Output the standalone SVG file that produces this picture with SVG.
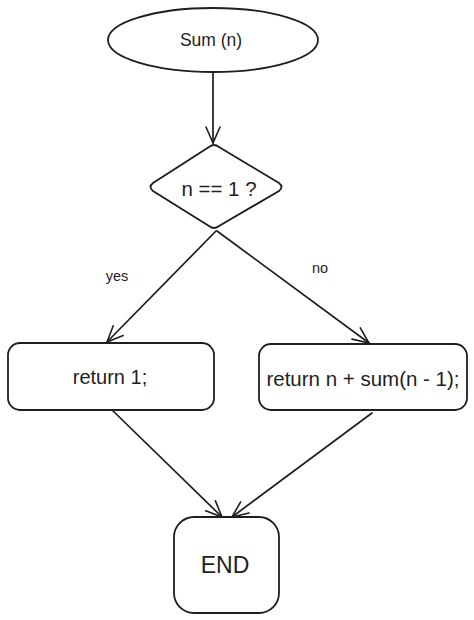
<svg xmlns="http://www.w3.org/2000/svg" width="474" height="620" viewBox="0 0 474 620">
<style>
.s{fill:#fff;stroke:#1e1e1e;stroke-width:1.8}
.t{font-family:"Liberation Sans",Arial,sans-serif;fill:#1e1e1e;text-anchor:middle;dominant-baseline:central}
.c{fill:none;stroke:#1e1e1e;stroke-width:1.7;stroke-linecap:round}
</style>
<defs>
<marker id="a" markerWidth="20" markerHeight="20" refX="17" refY="10" orient="auto" markerUnits="userSpaceOnUse">
<path d="M1,3 L17,10 L1,17" fill="none" stroke="#1e1e1e" stroke-width="1.6" stroke-linecap="round"/>
</marker>
</defs>
<rect width="474" height="620" fill="#fff"/>
<g id="connectors">
<line class="c" x1="213" y1="73" x2="213" y2="143" marker-end="url(#a)"/>
<line class="c" x1="216" y1="231" x2="107" y2="342" marker-end="url(#a)"/>
<line class="c" x1="217" y1="231" x2="369" y2="343" marker-end="url(#a)"/>
<line class="c" x1="110" y1="408" x2="222" y2="517" marker-end="url(#a)"/>
<line class="c" x1="372" y1="413" x2="232" y2="517" marker-end="url(#a)"/>
<text class="t" x="117" y="276" font-size="14.5">yes</text>
<text class="t" x="320" y="268" font-size="14.5">no</text>
</g>
<g id="start">
<ellipse class="s" cx="213" cy="40" rx="105" ry="32"/>
<text class="t" x="211" y="40" font-size="17.5">Sum (n)</text>
</g>
<g id="decision">
<path class="s" d="M209,147 Q214,143 219,147 L279,183 Q284,187 279,191 L219,226 Q214,230 209,226 L153,191 Q148,187 153,183 Z"/>
<text class="t" x="219" y="188" font-size="20.5">n == 1 ?</text>
</g>
<g id="yesBox">
<rect class="s" x="8" y="343" width="206" height="67" rx="12"/>
<text class="t" x="110" y="377" font-size="20">return 1;</text>
</g>
<g id="noBox">
<rect class="s" x="259" y="344" width="208" height="66" rx="12"/>
<text class="t" x="363" y="378" font-size="20.5">return n + sum(n - 1);</text>
</g>
<g id="end">
<rect class="s" x="174" y="517" width="105" height="96" rx="20"/>
<text class="t" x="225" y="565" font-size="23">END</text>
</g>
</svg>
